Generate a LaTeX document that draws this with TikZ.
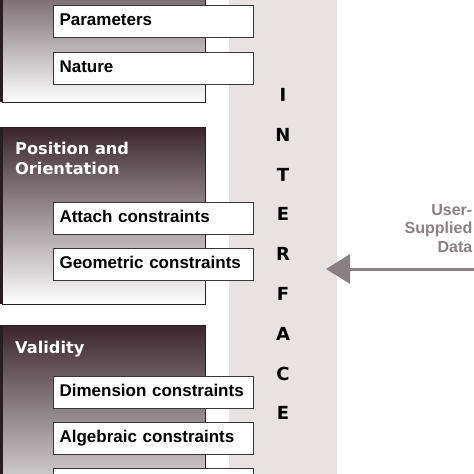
\documentclass[tikz,border=0pt]{standalone}
\usepackage{fontspec}
\setmainfont{Liberation Sans}
\newfontfamily\heavyfont{DejaVu Sans}
\usetikzlibrary{arrows.meta}
\definecolor{bandcol}{RGB}{233,226,226}
\definecolor{paneldark}{RGB}{58,38,45}
\definecolor{panelmid}{RGB}{150,132,137}
\definecolor{panelline}{RGB}{40,30,34}
\definecolor{boxline}{RGB}{55,55,55}
\definecolor{arrowcol}{RGB}{138,127,131}
\tikzset{
  panel/.style={draw=panelline, line width=1pt, top color=paneldark, middle color=panelmid, bottom color=white, minimum width=203pt, anchor=north west, inner sep=0pt},
  itembox/.style={draw=boxline, line width=1.1pt, fill=white, minimum width=200pt, minimum height=32pt, anchor=north west, inner xsep=6pt, inner ysep=0pt, text width=188pt, align=left, font=\fontsize{17}{18}\selectfont\bfseries, text height=12pt, text depth=3.5pt},
  paneltitle/.style={anchor=north west, inner sep=0pt, text=white, align=left, font=\heavyfont\fontsize{16.2}{20}\selectfont\bfseries},
  iletter/.style={inner sep=0pt, font=\heavyfont\fontsize{18}{18}\selectfont\bfseries},
  datatext/.style={text=arrowcol, align=right, inner sep=0pt, font=\fontsize{16}{18.5}\selectfont\bfseries},
  dataarrow/.style={draw=arrowcol, line width=3pt, -{Triangle[length=24pt,width=29pt]}}
}
\begin{document}
\begin{tikzpicture}[x=1pt,y=-1pt]
\useasboundingbox (0,0) rectangle (474,474);
\clip (0,0) rectangle (474,474);
\fill[white] (0,0) rectangle (474,474);
% interface band
\node[fill=bandcol, minimum width=108pt, minimum height=480pt, anchor=north west, inner sep=0pt] (band) at (229,-3) {};
% panels
\node[panel, minimum height=157pt] (p1) at (2,-55) {};
\node[panel, minimum height=177pt] (p2) at (2,127) {};
\node[panel, minimum height=200pt] (p3) at (2,325) {};
\fill[panelline] (0,-55) rectangle (2.5,102);
\fill[panelline] (0,127) rectangle (2.5,304);
\fill[panelline] (0,325) rectangle (2.5,480);
% titles
\node[paneltitle] (t2) at (15,141.5) {Position and\\Orientation};
\node[paneltitle] (t3) at (15,341) {Validity};
% item boxes
\node[itembox] (par) at (53,5) {Parameters};
\node[itembox] (nat) at (53,51.5) {Nature};
\node[itembox] (att) at (53,201.5) {Attach constraints};
\node[itembox] (geo) at (53,247.5) {Geometric constraints};
\node[itembox] (dim) at (53,376) {Dimension constraints};
\node[itembox] (alg) at (53,422) {Algebraic constraints};
\node[itembox] (ext) at (53,468) {};
% INTERFACE letters
\foreach \l [count=\i from 0] in {I,N,T,E,R,F,A,C,E} {
  \node[iletter] (if\i) at (283,{95+39.8*\i}) {\l};
}
% user supplied data
\node[datatext, anchor=north east] (data) at (472.5,204) {User-\\Supplied\\Data};
\coordinate (src) at (490,269);
\coordinate (tip) at (326,269);
\draw[dataarrow] (src) -- (tip);
\end{tikzpicture}
\end{document}
